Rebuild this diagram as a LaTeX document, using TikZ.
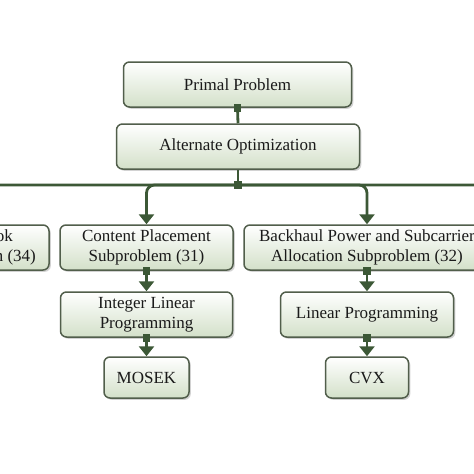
\documentclass[tikz,border=0pt]{standalone}
\usepackage{fontspec}
\setmainfont{Liberation Serif}
\usetikzlibrary{arrows.meta,shadows}
\definecolor{boxline}{HTML}{515E4B}
\definecolor{boxfill}{HTML}{D3E0C9}
\definecolor{linec}{HTML}{3C5836}
\definecolor{textc}{HTML}{1A1A1A}
\tikzset{
  box/.style={draw=boxline, line width=1.5pt, rounded corners=6pt,
    top color=white, bottom color=boxfill,
    drop shadow={shadow xshift=1.8pt, shadow yshift=-1.8pt, fill=black!35, opacity=0.5},
    align=center, font=\fontsize{17}{20}\selectfont, text=textc, inner sep=2pt},
  conn/.style={draw=linec, line width=2.8pt},
  arr/.style={conn, -{Triangle[length=10pt,width=15pt]}},
  sq/.style={fill=linec, minimum size=7.5pt, inner sep=0pt}
}
\begin{document}
\begin{tikzpicture}[x=1pt,y=-1pt]
\useasboundingbox (0,0) rectangle (474,474);
\fill[white] (0,0) rectangle (474,474);
\clip (0,0) rectangle (474,474);
\node[box, minimum width=228pt, minimum height=45pt] (primal) at (237.5,84.5) {Primal Problem};
\node[box, minimum width=243pt, minimum height=45pt] (alt) at (238,146.5) {Alternate Optimization};
\node[box, minimum width=142pt, minimum height=45pt] (left) at (-22,247.5) {Codebook\\Subproblem (34)};
\node[box, minimum width=173pt, minimum height=45pt] (content) at (146.5,247.5) {Content Placement\\Subproblem (31)};
\node[box, minimum width=246pt, minimum height=45pt] (back) at (367,247.5) {Backhaul Power and Subcarrier\\Allocation Subproblem (32)};
\node[box, minimum width=200pt, minimum height=45pt] (right) at (610,247.5) {};
\node[box, minimum width=172pt, minimum height=45pt] (ilp) at (146.5,314.5) {Integer Linear\\Programming};
\node[box, minimum width=173pt, minimum height=45pt] (lp) at (367,314.5) {Linear Programming};
\node[box, minimum width=85pt, minimum height=41pt] (mosek) at (146.5,377.5) {MOSEK};
\node[box, minimum width=83pt, minimum height=41pt] (cvx) at (367,377.5) {CVX};
\coordinate (bus) at (238,185);
\draw[conn] (primal.south) -- (alt.north);
\draw[conn] (alt.south) -- (bus);
\draw[arr, rounded corners=8pt] (bus) -| (content.north);
\draw[arr, rounded corners=8pt] (bus) -| (back.north);
\draw[arr, rounded corners=8pt] (bus) -| (left.north);
\draw[arr, rounded corners=8pt] (bus) -| (right.north);
\draw[arr] (content.south) -- (ilp.north);
\draw[arr] (ilp.south) -- (mosek.north);
\draw[arr] (back.south) -- (lp.north);
\draw[arr] (lp.south) -- (cvx.north);
\node[sq] (s1) at (primal.south) {};
\node[sq] (s2) at (bus) {};
\node[sq] (s3) at (content.south) {};
\node[sq] (s4) at (ilp.south) {};
\node[sq] (s5) at (back.south) {};
\node[sq] (s6) at (lp.south) {};
\end{tikzpicture}
\end{document}
